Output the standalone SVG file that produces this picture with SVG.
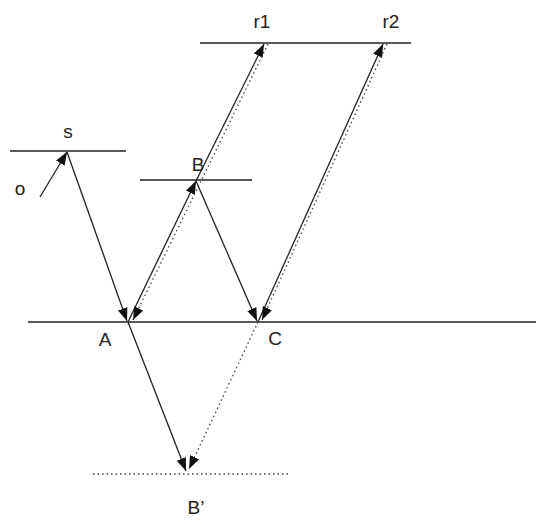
<svg xmlns="http://www.w3.org/2000/svg" width="550" height="526" viewBox="0 0 550 526">
<style>
.ln{stroke:#222;stroke-width:1.3;fill:none}
.dt{stroke:#444;stroke-width:1.3;fill:none;stroke-dasharray:1.5 3}
.lb{font-family:"Liberation Sans",Arial,sans-serif;font-size:19px;fill:#222;text-anchor:middle}
</style>
<defs>
<marker id="ah" markerUnits="userSpaceOnUse" markerWidth="14" markerHeight="10" refX="13" refY="5" orient="auto">
<path d="M0,0 L13,5 L0,10 Z" fill="#111"/>
</marker>
</defs>
<rect width="550" height="526" fill="#fff"/>
<g id="levels">
<line class="ln" x1="200" y1="43" x2="411" y2="43"/>
<line class="ln" x1="10" y1="151" x2="126" y2="151"/>
<line class="ln" x1="140" y1="180" x2="252" y2="180"/>
<line class="ln" x1="28" y1="322" x2="536" y2="322"/>
<line class="dt" x1="93" y1="474" x2="288" y2="474"/>
</g>
<g id="connectors">
<line class="ln" x1="40" y1="197" x2="67" y2="152" marker-end="url(#ah)"/>
<line class="ln" x1="67" y1="152" x2="127" y2="321" marker-end="url(#ah)"/>
<line class="ln" x1="128" y1="322" x2="196" y2="181" marker-end="url(#ah)"/>
<line class="ln" x1="196" y1="181" x2="264" y2="44" marker-end="url(#ah)"/>
<line class="dt" x1="268" y1="44" x2="133" y2="320" marker-end="url(#ah)"/>
<line class="ln" x1="196" y1="181" x2="257" y2="321" marker-end="url(#ah)"/>
<line class="ln" x1="258" y1="322" x2="383" y2="44" marker-end="url(#ah)"/>
<line class="dt" x1="387" y1="44" x2="262" y2="320" marker-end="url(#ah)"/>
<line class="dt" x1="258" y1="322" x2="189" y2="469" marker-end="url(#ah)"/>
<line class="ln" x1="128" y1="322" x2="186" y2="471" marker-end="url(#ah)"/>
</g>
<g id="labels">
<text class="lb" x="68" y="138">s</text>
<text class="lb" x="20" y="195">o</text>
<text class="lb" x="262" y="28">r1</text>
<text class="lb" x="391" y="28">r2</text>
<text class="lb" x="198" y="171">B</text>
<text class="lb" x="105" y="346">A</text>
<text class="lb" x="275" y="345">C</text>
<text class="lb" x="196" y="514">B’</text>
</g>
</svg>
